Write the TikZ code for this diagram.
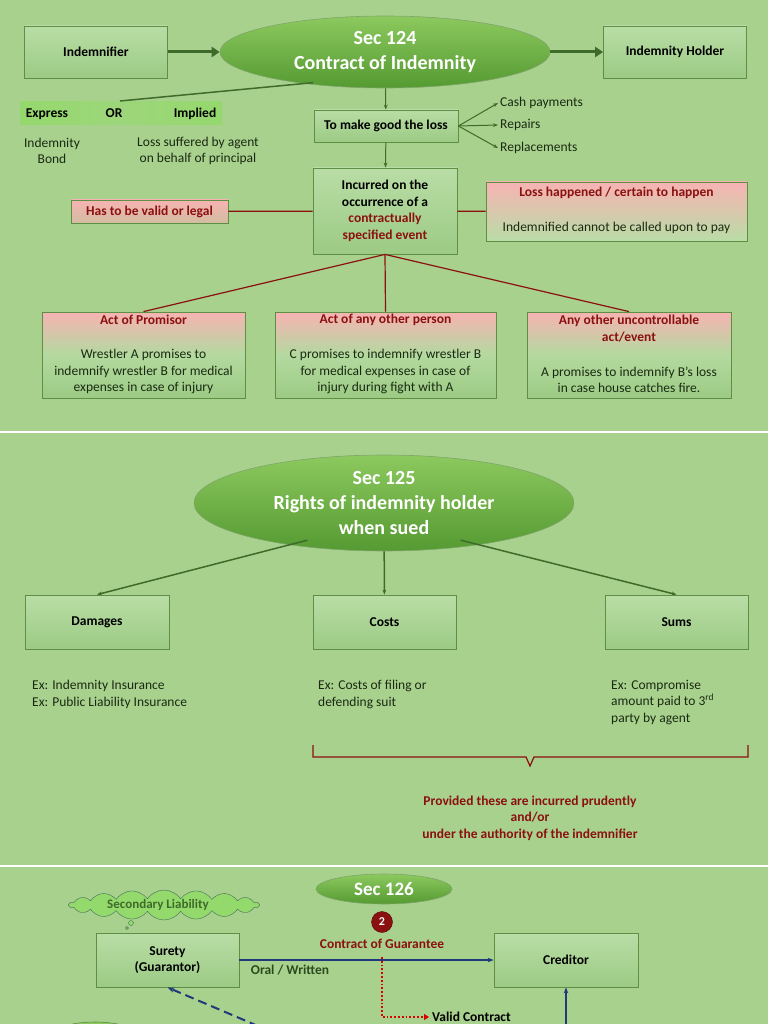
\documentclass[tikz,border=0pt]{standalone}
\usepackage{fontspec}
\setmainfont{Carlito}
\usetikzlibrary{shapes.geometric,shapes.symbols,arrows.meta,decorations.pathreplacing}
\definecolor{bg}{HTML}{A9D18E}
\definecolor{boxt}{HTML}{B9DDA6}
\definecolor{boxb}{HTML}{9CCB84}
\definecolor{boxd}{HTML}{5E8F45}
\definecolor{pinkc}{HTML}{F7B3B3}
\definecolor{dred}{HTML}{8B1010}
\definecolor{dgreen}{HTML}{3F6B2A}
\definecolor{ellt}{HTML}{8CC95E}
\definecolor{ellb}{HTML}{559A32}
\definecolor{navy}{HTML}{1F3A7A}
\definecolor{txt}{HTML}{1A2A12}
\definecolor{barg}{HTML}{8EDB62}
\begin{document}
\begin{tikzpicture}[x=1pt,y=-1pt,
 font=\fontsize{13.5}{16.5}\selectfont\color{txt},
 box/.style={draw=boxd,line width=0.8pt,top color=boxt,bottom color=boxb,rectangle,align=center,font=\fontsize{13.5}{16.5}\selectfont\bfseries},
 pbox/.style={draw=boxd,line width=0.8pt,top color=pinkc,bottom color=boxb,middle color=boxt!80!boxb,rectangle,align=center},
 ell/.style={ellipse,draw=boxd!80,line width=0.6pt,top color=ellt,bottom color=ellb,text=white,align=center,font=\fontsize{20}{25}\selectfont\bfseries},
 garrow/.style={draw=dgreen,line width=3pt,-{Triangle[length=8pt,width=10pt]}},
 tarrow/.style={draw=dgreen,line width=1pt,-{Stealth[length=5pt]}},
 rline/.style={draw=dred,line width=1.2pt},
 rtxt/.style={text=dred,font=\fontsize{13.5}{16.5}\selectfont\bfseries,align=center},
 plain/.style={align=center,inner sep=0pt},
 bartxt/.style={inner sep=0pt,anchor=base,font=\fontsize{13.5}{16.5}\selectfont\bfseries}]
\fill[bg] (0,0) rectangle (768,1024);
\useasboundingbox (0,0) rectangle (768,1024);
\begin{scope}
\clip (0,0) rectangle (768,1024);
% ---------- Sec 124
\node[box,minimum width=143pt,minimum height=52pt] (indr) at (96,52) {Indemnifier};
\node[box,minimum width=143pt,minimum height=52pt] (holder) at (675,52) {Indemnity Holder};
\node[ell,minimum width=330pt,minimum height=72pt,inner sep=0pt] (s124) at (385,52) {Sec 124\\Contract of Indemnity};
\draw[garrow] (indr) -- (s124);
\draw[garrow] (s124) -- (holder);
\fill[left color=barg!75!bg, right color=barg!75!bg, middle color=barg!45!bg] (20,102) rectangle (222,125);
\coordinate (bar) at (120,101);
\draw[dgreen,line width=1.5pt] (s124.south west) ++(45,5) coordinate (ea) (ea) -- (bar);
\node[bartxt] (expr) at (47,118) {Express};
\node[bartxt] (or) at (114,118) {OR};
\node[bartxt] (impl) at (195,118) {Implied};
\node[plain] (bond) at (52,151) {Indemnity\\Bond};
\node[plain] (agent) at (198,151) {Loss suffered by agent\\on behalf of principal};
\node[box,minimum width=144pt,minimum height=32pt] (good) at (386,126) {To make good the loss};
\draw[tarrow] (s124) -- (good);
\node[plain,anchor=west] (cash) at (500,103) {Cash payments};
\node[plain,anchor=west] (rep) at (500,125) {Repairs};
\node[plain,anchor=west] (repl) at (500,148) {Replacements};
\foreach \t in {cash,rep,repl} \draw[tarrow] (good.east) -- ([xshift=-2pt]\t.west);
\node[box,minimum width=144pt,minimum height=86pt] (inc) at (385,211) {Incurred on the\\occurrence of a\\\textcolor{dred}{contractually}\\\textcolor{dred}{specified event}};
\draw[tarrow] (good) -- (inc);
\node[rectangle,draw=boxd,line width=0.8pt,top color=pinkc,bottom color=pinkc!60!boxb,minimum width=157pt,minimum height=23pt,inner sep=0pt,rtxt] (valid) at (149.5,211.5) {Has to be valid or legal};
\draw[rline] (valid) -- (inc);
\node[rectangle,draw=boxd,line width=0.8pt,top color=pinkc,bottom color=boxt,minimum width=261pt,minimum height=59pt] (lossbox) at (616.5,211.5) {};
\node[rtxt] (lossh) at (616.5,193) {Loss happened / certain to happen};
\node[plain] (lossi) at (616.5,228) {Indemnified cannot be called upon to pay};
\draw[rline] (inc) -- (lossbox);
\node[pbox,minimum width=203pt,minimum height=86pt] (b1) at (143.5,355) {};
\node[pbox,minimum width=221pt,minimum height=86pt] (b2) at (385.5,355) {};
\node[pbox,minimum width=204pt,minimum height=86pt] (b3) at (629,355) {};
\node[rtxt] at (143.5,320) {Act of Promisor};
\node[rtxt] at (385.5,320) {Act of any other person};
\node[rtxt] at (629,328.5) {Any other uncontrollable\\act/event};
\node[plain] at (143.5,371.5) {Wrestler A promises to\\indemnify wrestler B for medical\\expenses in case of injury};
\node[plain] at (385.5,371.5) {C promises to indemnify wrestler B\\for medical expenses in case of\\injury during fight with A};
\node[plain] at (629,380) {A promises to indemnify B’s loss\\in case house catches fire.};
\draw[rline] (inc.south) -- (b1.north);
\draw[rline] (inc.south) -- (b2.north);
\draw[rline] (inc.south) -- (b3.north);
\draw[white,line width=1.2pt] (0,432) -- (768,432);
% ---------- Sec 125
\node[ell,minimum width=380pt,minimum height=96pt,inner sep=0pt] (s125) at (384,503) {Sec 125\\Rights of indemnity holder\\when sued};
\node[box,minimum width=144pt,minimum height=54pt] (dam) at (97,622) {Damages};
\node[box,minimum width=143pt,minimum height=54pt] (cost) at (384.5,622) {Costs};
\node[box,minimum width=143pt,minimum height=54pt] (sums) at (676.5,622) {Sums};
\draw[tarrow,line width=1.5pt] (s125.south west) ++(58,3) coordinate (e1) (e1) -- (dam.north);
\draw[tarrow,line width=1.5pt] (s125) -- (cost);
\draw[tarrow,line width=1.5pt] (s125.south east) ++(-58,3) coordinate (e2) (e2) -- (sums.north);
\node[plain,anchor=north west,align=left] (t1) at (32,680) {Ex: Indemnity Insurance\\Ex: Public Liability Insurance};
\node[plain,anchor=north west,align=left] (t2) at (318,680) {Ex: Costs of filing or\\defending suit};
\node[plain,anchor=north west,align=left] (t3) at (611,680) {Ex: Compromise\\amount paid to 3\textsuperscript{rd}\\party by agent};
\coordinate (brl) at (313,745);
\coordinate (brr) at (748,745);
\draw[dred,line width=1.2pt] (brl) -- (313,757) -- (526,757) -- (530,766) -- (534,757) -- (748,757) -- (brr);
\node[rtxt] (prov) at (530,818) {Provided these are incurred prudently\\and/or\\under the authority of the indemnifier};
\draw[white,line width=1.2pt] (0,866) -- (768,866);
% ---------- Sec 126
\node[ell,minimum width=136pt,minimum height=30pt,inner sep=0pt,font=\fontsize{19}{22}\selectfont\bfseries] (s126) at (384,889) {Sec 126};
\node[cloud,cloud puffs=18,cloud puff arc=110,cloud ignores aspect,draw=navy!40!boxd,fill=barg!80!bg,minimum width=190pt,minimum height=30pt,inner sep=0pt] (cloud) at (164,905) {};
\node[plain,font=\fontsize{13}{15}\selectfont\bfseries,text=dgreen] (cloudt) at (158,905) {Secondary Liability};
\draw[navy!40!boxd,fill=barg!80!bg] (131,923) circle (2.5pt) (127,928) circle (1.5pt);
\node[circle,fill=dred,draw=dred!60!black,text=white,minimum size=21pt,inner sep=0pt,font=\fontsize{12}{13}\selectfont\bfseries] (two) at (382,922) {2};
\node[rtxt] (cog) at (382,944) {Contract of Guarantee};
\node[box,minimum width=143pt,minimum height=54pt] (surety) at (167.5,960) {Surety\\(Guarantor)};
\node[box,minimum width=144pt,minimum height=54pt] (cred) at (566,960) {Creditor};
\draw[navy,line width=1.5pt,-{Stealth[length=6pt]}] (surety) -- (cred);
\node[plain,font=\fontsize{13.5}{16.5}\selectfont\bfseries,text=dgreen!70!black] (ow) at (290,970) {Oral / Written};
\node[plain,anchor=west,font=\fontsize{13.5}{16.5}\selectfont\bfseries] (vc) at (432,1017) {Valid Contract};
\coordinate (dtop) at (382,957);
\draw[red!85!black,line width=1.8pt,dotted,-{Triangle[length=5pt,width=6pt]}] (dtop) -- (382,1017) -- ([xshift=-3pt]vc.west);
\coordinate (cbot) at (566,1030);
\draw[navy,line width=1.5pt,-{Stealth[length=6pt]}] (cbot) -- (cred.south);
\coordinate (sdash) at (258,1026);
\draw[navy,line width=2pt,dash pattern=on 9pt off 5pt,-{Stealth[length=7pt]}] (sdash) -- (surety.south);
\node[ellipse,draw=boxd,line width=0.6pt,top color=ellt,bottom color=ellb,minimum width=90pt,minimum height=30pt] (pe) at (95,1037) {};
\end{scope}
\end{tikzpicture}
\end{document}
